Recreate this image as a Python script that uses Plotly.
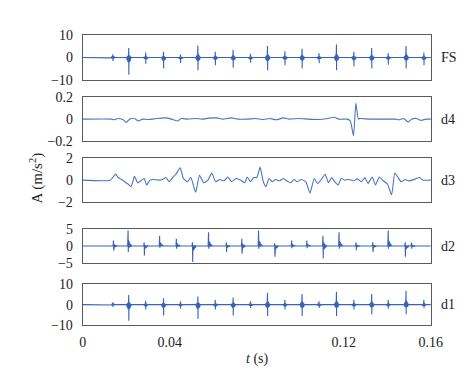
import plotly.graph_objects as go

# ---------------- data ----------------
# Impulse-type signals (FS, d1): spike times and peak values
FS_T = [0.0138, 0.0211, 0.0289, 0.0371, 0.0449, 0.0529, 0.0609, 0.0691, 0.0771, 0.0849,
        0.0929, 0.1008, 0.1086, 0.1166, 0.1246, 0.1328, 0.1404, 0.1486, 0.1568]
FS_UP = [1.5, 4.3, 2.3, 2.6, 1.4, 5.5, 2.6, 3.5, 1.7, 5.2, 2.8, 4.0, 2.0, 5.9, 2.6, 4.3, 2.0, 5.2, 2.3]
FS_DN = [-1.5, -7.8, -2.8, -4.9, -2.5, -5.7, -3.5, -4.6, -2.3, -5.7, -3.5, -4.9, -2.6, -5.7, -4.0, -4.9, -3.2, -4.9, -3.5]

D1_T = FS_T
D1_UP = [1.1, 4.7, 1.9, 3.1, 1.6, 3.9, 2.3, 3.4, 1.6, 5.8, 2.3, 5.2, 1.6, 6.3, 2.3, 5.2, 2.3, 6.7, 2.3]
D1_DN = [-1.1, -7.8, -2.3, -5.2, -2.0, -7.0, -2.3, -5.2, -1.6, -5.5, -2.3, -5.5, -1.6, -5.5, -2.3, -4.7, -2.0, -4.7, -1.6]

D2_T = [0.0141, 0.0208, 0.0282, 0.0353, 0.0430, 0.0504, 0.0578, 0.0660, 0.0731, 0.0808,
        0.0882, 0.0960, 0.1030, 0.1104, 0.1178, 0.1256, 0.1333, 0.1404, 0.1482, 0.1511]
D2_UP = [1.6, 4.5, 1.1, 3.0, 2.1, 1.1, 4.0, 1.1, 2.1, 4.5, 0.8, 1.6, 1.6, 3.0, 4.0, 1.1, 1.1, 4.5, 1.1, 1.0]
D2_DN = [-1.3, -1.7, -2.7, -0.5, -0.8, -4.6, -0.8, -1.7, -2.2, -0.8, -3.1, -0.6, -0.6, -3.6, -0.8, -1.2, -1.7, -0.8, -3.1, -0.8]

# burst shapes (relative) seen around each impulse
SYM_OFF = [-0.0010, -0.0009, -0.0008, -0.0007, -0.0006, -0.0005, -0.0004, -0.0003, -0.0002,
           -0.0001, 0.0, 0.00005, 0.0001, 0.0002, 0.0003, 0.0004, 0.0005, 0.0006, 0.0007,
           0.0008, 0.0009, 0.0010, 0.0011]
SYM_SHAPE = [0.0, 0.08, -0.1, 0.14, -0.16, 0.2, -0.22, 0.25, -0.28, 0.3, 1.0, -1.0, 0.32,
             -0.3, 0.28, -0.25, 0.22, -0.2, 0.16, -0.14, 0.1, -0.08, 0.0]
ASY_OFF = [-0.0002, 0.0, 0.0001, 0.0002, 0.0003, 0.0004, 0.0005, 0.0007, 0.0009, 0.0011,
           0.0013, 0.0015, 0.0017]
ASY_SHAPE = [0.0, 1.0, -1.0, 0.35, -0.35, 0.3, -0.28, 0.22, -0.2, 0.15, -0.12, 0.08, 0.0]

# Smooth signals (d3, d4): sampled points
D3_T = [0, 0.01262, 0.01453, 0.01511, 0.01631, 0.01778, 0.01929, 0.02076, 0.02222, 0.02373, 0.0252,
        0.02667, 0.02818, 0.02933, 0.03084, 0.03262, 0.03484, 0.03676, 0.03822, 0.03973, 0.04151,
        0.04298, 0.04476, 0.04622, 0.04818, 0.04964, 0.05187, 0.05364, 0.05556, 0.05751, 0.05929,
        0.06107, 0.06298, 0.06489, 0.06667, 0.06844, 0.0704, 0.07262, 0.0744, 0.07556, 0.07707,
        0.07853, 0.08, 0.08151, 0.08298, 0.08418, 0.08564, 0.08711, 0.08862, 0.0904, 0.09218,
        0.09364, 0.09556, 0.09707, 0.09853, 0.10044, 0.10253, 0.10444, 0.1064, 0.10787, 0.10964,
        0.11142, 0.11289, 0.1144, 0.11587, 0.11733, 0.11884, 0.12031, 0.12222, 0.12444, 0.12622,
        0.12818, 0.12964, 0.13111, 0.13307, 0.13453, 0.13631, 0.13778, 0.14, 0.14196, 0.14342,
        0.14489, 0.1464, 0.14818, 0.14964, 0.15142, 0.15333, 0.15484, 0.15631, 0.16]
D3_V = [0, 0, 0.44, 0.53, 0.24, 0.06, -0.15, -0.35, -0.59, 0.35, -0.24,
        -0.06, 0.15, -0.44, 0.0, 0.06, 0.0, 0.06, 0.24, -0.15, 0.29,
        0.59, 1.12, 0.15, -0.15, 0.24, -1.09, 0.44, -0.24, 0.0, 0.65,
        -0.15, 0.06, -0.06, 0.29, -0.15, 0.15, 0.0, -0.24, 0.29, -0.15,
        0.24, 0.24, 1.18, -0.15, -0.59, 0.15, -0.15, 0.06, -0.06, 0.15,
        -0.06, -0.24, 0.06, -0.15, 0.06, -0.15, -1.18, 0.15, -0.29, 0.06,
        0.53, -0.24, 0.24, -0.15, -0.44, 0.15, 0.0, 0.06, -0.06, 0.12,
        -0.15, 0.24, -0.29, 0.29, -0.44, 0.29, 0.0, -0.35, -1.32, 0.65,
        0.24, -0.15, 0.06, -0.06, 0.0, 0.15, 0.24, 0.0, 0.0]

D4_T = [0, 0.01333, 0.01409, 0.01631, 0.01853, 0.02, 0.02151, 0.02373, 0.02551, 0.02742, 0.0304,
        0.03409, 0.03778, 0.04076, 0.04373, 0.0452, 0.04818, 0.05187, 0.05484, 0.05778, 0.06151,
        0.06444, 0.06818, 0.07111, 0.07556, 0.07929, 0.08298, 0.08596, 0.08889, 0.09218, 0.09484,
        0.09929, 0.10373, 0.10818, 0.11262, 0.11556, 0.11778, 0.12151, 0.12298, 0.12444, 0.12551,
        0.12667, 0.12742, 0.13187, 0.13929, 0.14373, 0.1452, 0.14742, 0.14964, 0.15111, 0.15333,
        0.15556, 0.15778, 0.16]
D4_V = [0, 0, -0.006, 0.006, -0.006, -0.029, 0.0, 0.006, -0.017, 0.0, -0.003,
        0.006, 0.011, 0.0, -0.017, 0.006, 0.0, 0.006, 0.0, 0.009, 0.011,
        0.0, 0.011, 0.0, 0.0, 0.006, -0.003, 0.006, -0.006, 0.011, 0.0,
        0.006, 0.0, -0.003, 0.006, 0.017, 0.0, 0.0, -0.017, -0.15, 0.146,
        0.0, 0.006, 0.0, 0.0, 0.0, -0.006, 0.006, -0.026, 0.0, 0.006,
        -0.011, 0.0, 0.0]

PANEL_NAMES = ["FS", "d4", "d3", "d2", "d1"]
Y_TICKS = [[-10, 0, 10], [-0.2, 0, 0.2], [-2, 0, 2], [-5, 0, 5], [-10, 0, 10]]
X_TICKS = [0, 0.04, 0.12, 0.16]
X_RANGE = [0, 0.16]


def impulse_series(times, ups, dns, offs, shape):
    xs, ys = [X_RANGE[0]], [0.0]
    for t, u, d in zip(times, ups, dns):
        for o, s in zip(offs, shape):
            xs.append(t + o)
            ys.append(s * u if s >= 0 else s * (-d))
    xs.append(X_RANGE[1])
    ys.append(0.0)
    return xs, ys


fs_x, fs_y = impulse_series(FS_T, FS_UP, FS_DN, SYM_OFF, SYM_SHAPE)
d1_x, d1_y = impulse_series(D1_T, D1_UP, D1_DN, SYM_OFF, SYM_SHAPE)
d2_x, d2_y = impulse_series(D2_T, D2_UP, D2_DN, ASY_OFF, ASY_SHAPE)

SPIKE_COLOR = "#3a63b4"
LINE_COLOR = "#4a74c2"
FRAME = "#5a5a5a"
FONT = "Liberation Serif"

fig = go.Figure()
series = [(fs_x, fs_y, "linear", SPIKE_COLOR), (D4_T, D4_V, "spline", LINE_COLOR),
          (D3_T, D3_V, "spline", LINE_COLOR), (d2_x, d2_y, "linear", SPIKE_COLOR),
          (d1_x, d1_y, "linear", SPIKE_COLOR)]
for i, (xs, ys, shp, col) in enumerate(series, start=1):
    line = dict(color=col, width=1.1, shape=shp)
    if shp == "spline":
        line["smoothing"] = 0.5
    fig.add_trace(go.Scatter(x=xs, y=ys, mode="lines", line=line,
                             xaxis=f"x{i}", yaxis=f"y{i}", showlegend=False,
                             hoverinfo="skip"))

W, H = 474, 382
x_dom = [73.3 / W, 433.5 / W]
panels_px = [(21.3, 67.3), (85.3, 131.5), (149.0, 194.8), (222.5, 258.5), (280.0, 323.0)]

layout = dict(width=W, height=H, margin=dict(l=0, r=0, t=0, b=0),
              paper_bgcolor="white", plot_bgcolor="white",
              font=dict(family=FONT, size=14, color="#222"))
for i, ((top, bot), ticks) in enumerate(zip(panels_px, Y_TICKS), start=1):
    ydom = [1 - bot / H, 1 - top / H]
    xa = dict(domain=x_dom, range=X_RANGE, showgrid=False, zeroline=False,
              showline=True, mirror=True, linecolor=FRAME, linewidth=1.3,
              ticks="", tickvals=X_TICKS, showticklabels=(i == 5),
              anchor=f"y{i}", ticklabelstandoff=4)
    if i > 1:
        xa["matches"] = "x"
    ya = dict(domain=ydom, range=[ticks[0], ticks[-1]], showgrid=False, zeroline=False,
              showline=True, mirror=True, linecolor=FRAME, linewidth=1.3,
              ticks="", tickvals=ticks, anchor=f"x{i}", ticklabelstandoff=6)
    key = "" if i == 1 else str(i)
    layout[f"xaxis{key}"] = xa
    layout[f"yaxis{key}"] = ya
fig.update_layout(**layout)

for (top, bot), name in zip(panels_px, PANEL_NAMES):
    fig.add_annotation(x=442 / W, y=1 - (top + bot) / 2 / H, xref="paper", yref="paper",
                       text=name, showarrow=False, xanchor="left", yanchor="middle",
                       font=dict(family=FONT, size=14, color="#222"))

fig.add_annotation(x=25 / W, y=1 - 170 / H, xref="paper", yref="paper",
                   text="A (m/s<sup>2</sup>)", textangle=-90, showarrow=False,
                   xanchor="center", yanchor="middle",
                   font=dict(family=FONT, size=15, color="#222"))
fig.add_annotation(x=254 / W, y=1 - 358 / H, xref="paper", yref="paper",
                   text="<i>t</i> (s)", showarrow=False, xanchor="center", yanchor="middle",
                   font=dict(family=FONT, size=14, color="#222"))

fig.write_html("out.html")
